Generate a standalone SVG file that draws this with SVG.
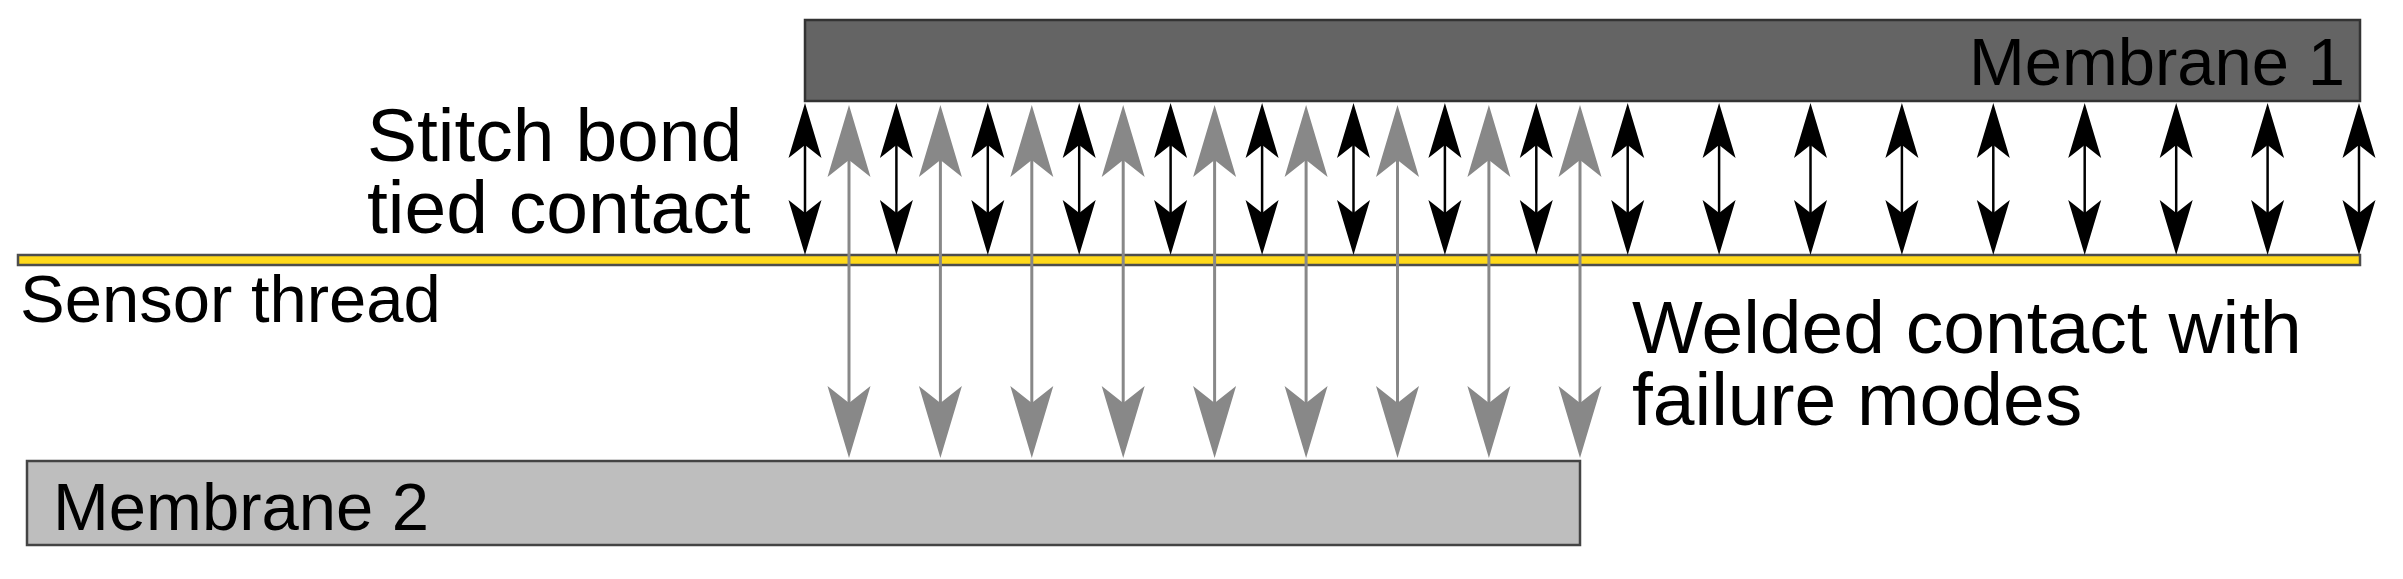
<svg xmlns="http://www.w3.org/2000/svg" width="2403" height="579" viewBox="0 0 2403 579">
  <style>
    .lbl { font-family: "Liberation Sans", Arial, sans-serif; fill: #000; }
    .big { font-size: 75px; }
    .mid { font-size: 67px; }
    .blk { stroke: #000; stroke-width: 2.5; fill: none; marker-start: url(#hb); marker-end: url(#hb); }
    .gry { stroke: #888; stroke-width: 3; fill: none; marker-start: url(#hg); marker-end: url(#hg); }
  </style>
  <defs>
    <marker id="hb" markerUnits="userSpaceOnUse" viewBox="-15 -18 60 36" markerWidth="60" markerHeight="36" refX="0" refY="0" orient="auto-start-reverse">
      <path d="M42,0 L-13,-16.5 L0,0 L-13,16.5 Z" fill="#000"/>
    </marker>
    <marker id="hg" markerUnits="userSpaceOnUse" viewBox="-19 -23 78 46" markerWidth="78" markerHeight="46" refX="0" refY="0" orient="auto-start-reverse">
      <path d="M55,0 L-17,-21.5 L0,0 L-17,21.5 Z" fill="#888"/>
    </marker>
  </defs>
  <rect width="2403" height="579" fill="#fff"/>

  <g id="membrane1">
    <rect x="805" y="20" width="1555" height="81" fill="#646464" stroke="#333" stroke-width="2.5"/>
    <text class="lbl mid" x="2345" y="85" text-anchor="end">Membrane 1</text>
  </g>

  <g id="membrane2">
    <rect x="27" y="461" width="1553" height="84" fill="#bebebe" stroke="#444" stroke-width="2.5"/>
    <text class="lbl mid" x="53" y="530">Membrane 2</text>
  </g>

  <g id="sensor-thread">
    <rect x="18" y="255" width="2342" height="10" fill="#ffd91a" stroke="#4d4d4d" stroke-width="2.5"/>
    <text class="lbl mid" x="20" y="322">Sensor thread</text>
  </g>

  <g id="stitch-label">
    <text class="lbl big" x="367" y="161">Stitch bond</text>
    <text class="lbl big" x="367" y="233">tied contact</text>
  </g>

  <g id="welded-label">
    <text class="lbl big" x="1632" y="353">Welded contact with</text>
    <text class="lbl big" x="1632" y="425">failure modes</text>
  </g>

  <g id="connectors">
    <g id="stitch-arrows">
      <line class="blk" x1="805" y1="145" x2="805" y2="213"/>
      <line class="blk" x1="896.4" y1="145" x2="896.4" y2="213"/>
      <line class="blk" x1="987.8" y1="145" x2="987.8" y2="213"/>
      <line class="blk" x1="1079.2" y1="145" x2="1079.2" y2="213"/>
      <line class="blk" x1="1170.6" y1="145" x2="1170.6" y2="213"/>
      <line class="blk" x1="1262.1" y1="145" x2="1262.1" y2="213"/>
      <line class="blk" x1="1353.5" y1="145" x2="1353.5" y2="213"/>
      <line class="blk" x1="1444.9" y1="145" x2="1444.9" y2="213"/>
      <line class="blk" x1="1536.3" y1="145" x2="1536.3" y2="213"/>
      <line class="blk" x1="1627.7" y1="145" x2="1627.7" y2="213"/>
      <line class="blk" x1="1719.1" y1="145" x2="1719.1" y2="213"/>
      <line class="blk" x1="1810.5" y1="145" x2="1810.5" y2="213"/>
      <line class="blk" x1="1901.9" y1="145" x2="1901.9" y2="213"/>
      <line class="blk" x1="1993.3" y1="145" x2="1993.3" y2="213"/>
      <line class="blk" x1="2084.7" y1="145" x2="2084.7" y2="213"/>
      <line class="blk" x1="2176.2" y1="145" x2="2176.2" y2="213"/>
      <line class="blk" x1="2267.6" y1="145" x2="2267.6" y2="213"/>
      <line class="blk" x1="2359" y1="145" x2="2359" y2="213"/>
    </g>
    <g id="welded-arrows">
      <line class="gry" x1="849" y1="160" x2="849" y2="403"/>
      <line class="gry" x1="940.4" y1="160" x2="940.4" y2="403"/>
      <line class="gry" x1="1031.8" y1="160" x2="1031.8" y2="403"/>
      <line class="gry" x1="1123.2" y1="160" x2="1123.2" y2="403"/>
      <line class="gry" x1="1214.6" y1="160" x2="1214.6" y2="403"/>
      <line class="gry" x1="1306.1" y1="160" x2="1306.1" y2="403"/>
      <line class="gry" x1="1397.5" y1="160" x2="1397.5" y2="403"/>
      <line class="gry" x1="1488.9" y1="160" x2="1488.9" y2="403"/>
      <line class="gry" x1="1580" y1="160" x2="1580" y2="403"/>
    </g>
  </g>
</svg>
